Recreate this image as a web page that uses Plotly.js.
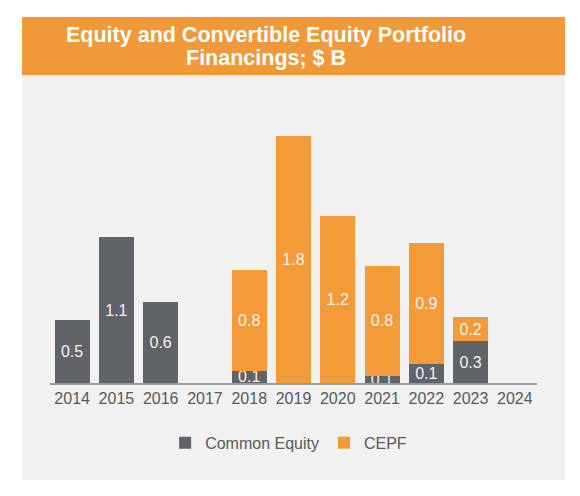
<!DOCTYPE html>
<html>
<head>
<meta charset="utf-8">
<script src="https://cdn.plot.ly/plotly-3.0.1.min.js"></script>
<style>
  html, body { margin: 0; padding: 0; background: #fff; }
  #chart { width: 580px; height: 496px; }
</style>
</head>
<body>
<div id="chart"></div>
<script>
// values, $ B
let years = ['2014', '2015', '2016', '2017', '2018', '2019', '2020', '2021', '2022', '2023', '2024'];
let commonEquity = [0.47, 1.08, 0.60, null, 0.09, null, null, 0.05, 0.14, 0.31, null];
let cepf = [null, null, null, null, 0.75, 1.83, 1.24, 0.82, 0.90, 0.18, null];
let titleLines = ['Equity and Convertible Equity Portfolio', 'Financings; $ B'];

let grey = '#606367';
let orange = '#F29B38';
let font = '"Liberation Sans", Arial, sans-serif';

var trace_common = {
    type: 'bar',
    name: 'Common Equity',
    x: years,
    y: commonEquity,
    marker: {color: grey},
    texttemplate: '%{y:.1f}',
    textposition: 'inside',
    insidetextanchor: 'middle',
    textfont: {color: '#f2f2f2', size: 16, family: font},
    hoverinfo: 'none',
};

var trace_cepf = {
    type: 'bar',
    name: 'CEPF',
    x: years,
    y: cepf,
    marker: {color: orange},
    texttemplate: '%{y:.1f}',
    textposition: 'inside',
    insidetextanchor: 'middle',
    textfont: {color: '#f2f2f2', size: 16, family: font},
    hoverinfo: 'none',
};

// title drawn as two annotations so the line spacing can be tight like the original
var titleAnnotations = titleLines.map(function(line, i) {
    return {
        text: '<b>' + line + '</b>',
        xref: 'paper', yref: 'paper',
        x: 0.443, y: [1.29, 1.202][i],
        xanchor: 'center', yanchor: 'middle',
        showarrow: false,
        font: {family: font, size: 21.5, color: '#ffffff'},
    };
});

// plot area is 50..537 px wide, 113..383 px high; panel shapes are given in paper units
var layout = {
    width: 580,
    height: 496,
    margin: {l: 50, r: 43, t: 113, b: 113},
    paper_bgcolor: '#ffffff',
    plot_bgcolor: 'rgba(0,0,0,0)',
    font: {family: font, color: '#595959', size: 16},
    barmode: 'stack',
    bargap: 0.21,
    uniformtext: {mode: 'show', minsize: 16},
    xaxis: {
        type: 'category',
        showline: true,
        linecolor: '#9a9a9a',
        linewidth: 1.5,
        ticks: '',
        showgrid: false,
        tickfont: {size: 16, color: '#595959'},
        fixedrange: true,
    },
    yaxis: {
        visible: false,
        range: [0, 2],
        fixedrange: true,
    },
    legend: {
        orientation: 'h',
        traceorder: 'normal',
        x: 0.49,
        xanchor: 'center',
        y: -0.222,
        yanchor: 'middle',
        bgcolor: 'rgba(0,0,0,0)',
        font: {size: 16, color: '#595959'},
    },
    annotations: titleAnnotations,
    shapes: [
        // light grey panel
        {type: 'rect', xref: 'paper', yref: 'paper', layer: 'below',
         x0: -0.0575, x1: 1.0575, y0: -0.359, y1: 1.1407,
         fillcolor: '#f1f1f1', line: {width: 0}},
        // orange title band
        {type: 'rect', xref: 'paper', yref: 'paper', layer: 'below',
         x0: -0.0575, x1: 1.0575, y0: 1.1407, y1: 1.3556,
         fillcolor: '#F0993A', line: {width: 0}},
    ],
};

var config = {
    staticPlot: true,
};

var data = [trace_common, trace_cepf];

Plotly.newPlot('chart', data, layout, config);
</script>
</body>
</html>
